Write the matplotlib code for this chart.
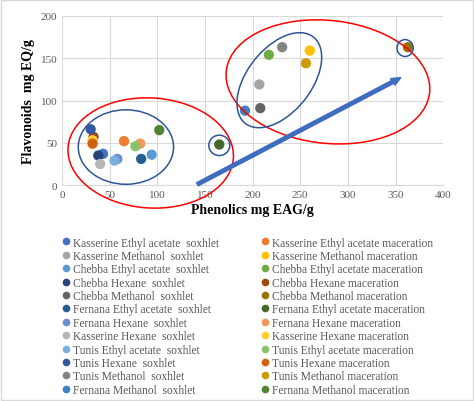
import matplotlib
matplotlib.use("Agg")
import matplotlib.pyplot as plt
from matplotlib.patches import Ellipse, FancyArrow
from matplotlib.lines import Line2D

labels = ["Kasserine Ethyl acetate  soxhlet", "Kasserine Ethyl acetate maceration",
          "Kasserine Methanol  soxhlet", "Kasserine Methanol maceration",
          "Chebba Ethyl acetate  soxhlet", "Chebba Ethyl acetate maceration",
          "Chebba Hexane  soxhlet", "Chebba Hexane maceration",
          "Chebba Methanol  soxhlet", "Chebba Methanol maceration",
          "Fernana Ethyl acetate  soxhlet", "Fernana Ethyl acetate maceration",
          "Fernana Hexane  soxhlet", "Fernana Hexane maceration",
          "Kasserine Hexane  soxhlet", "Kasserine Hexane maceration",
          "Tunis Ethyl acetate  soxhlet", "Tunis Ethyl acetate maceration",
          "Tunis Hexane  soxhlet", "Tunis Hexane maceration",
          "Tunis Methanol  soxhlet", "Tunis Methanol maceration",
          "Fernana Methanol  soxhlet", "Fernana Methanol maceration"]
colors = ["#4472C4", "#ED7D31", "#A5A5A5", "#FFC000", "#5B9BD5", "#70AD47",
          "#264478", "#9E480E", "#636363", "#997300", "#255E91", "#43682B",
          "#698ED0", "#F1975A", "#B7B7B7", "#FFCD33", "#7CAFDD", "#8CC168",
          "#335AA1", "#D26012", "#848484", "#CC9A06", "#3F7FC4", "#548235"]
phenolics = [43, 65, 207, 260, 94, 217, 38, 33, 208, 363, 83, 165,
             58, 82, 40, 32, 55, 77, 30, 32, 231, 256, 192, 102]
flavonoids = [37, 52, 119, 159, 36, 154, 35, 57, 91, 163, 31, 48,
              31, 49, 25, 53, 29, 46, 66, 49, 163, 144, 88, 65]

fig = plt.figure(figsize=(4.74, 4.02), dpi=100)
ax = fig.add_axes([0.131, 0.537, 0.804, 0.421])
for x, y, c in zip(phenolics, flavonoids, colors):
    ax.scatter(x, y, s=55, color=c, zorder=3, edgecolors="none")

ax.set_xlim(0, 400)
ax.set_ylim(0, 200)
ax.set_xticks(range(0, 401, 50))
ax.set_yticks(range(0, 201, 50))
ax.grid(color="#D9D9D9", lw=0.8)
ax.set_axisbelow(True)
for s in ax.spines.values():
    s.set_visible(False)
ax.spines["bottom"].set_visible(True)
ax.spines["bottom"].set_color("#D9D9D9")
ax.tick_params(length=0, colors="#595959", labelsize=8)
serif = "Liberation Serif"
for t in ax.get_xticklabels() + ax.get_yticklabels():
    t.set_family(serif)
ax.set_xlabel("Phenolics mg EAG/g", family=serif, weight="bold", fontsize=10, labelpad=3)
ax.set_ylabel("Flavonoids  mg EQ/g", family=serif, weight="bold", fontsize=10, labelpad=4)

# groupings
for cx, cy, w, h, a, col in [(93, 38, 174, 130, -5, "red"), (67, 45, 100, 88, 0, "#2F5597"),
                             (165, 47, 22, 24, 0, "#2F5597"), (279, 122, 215, 145, -8, "red"),
                             (228, 124, 125, 70, 58, "#2F5597"), (360, 162, 17, 20, 0, "#2F5597")]:
    ax.add_patch(Ellipse((cx, cy), w, h, angle=a, fill=False, ec=col, lw=1.1,
                         clip_on=False, zorder=4))
ax.add_patch(FancyArrow(142, 1, 205, 121, width=4, head_width=9, head_length=10,
                        color="#3E6DC0", clip_on=False, zorder=5))

# legend: soxhlet on the left, maceration on the right
order = list(range(0, 24, 2)) + list(range(1, 24, 2))
handles = [Line2D([], [], marker="o", ls="", color=colors[i], markersize=4.5) for i in order]
fig.legend(handles, [labels[i] for i in order], loc="upper center",
           bbox_to_anchor=(0.52, 0.435), ncol=2,
           frameon=False, prop={"family": serif, "size": 8.3}, labelcolor="#595959",
           handletextpad=0.1, columnspacing=3.5, labelspacing=0.12, handlelength=1)

fig.patches.append(plt.Rectangle((0.003, 0.003), 0.994, 0.994, transform=fig.transFigure,
                                 fill=False, ec="#D9D9D9", lw=1))
fig.savefig("out.png", dpi=100)
